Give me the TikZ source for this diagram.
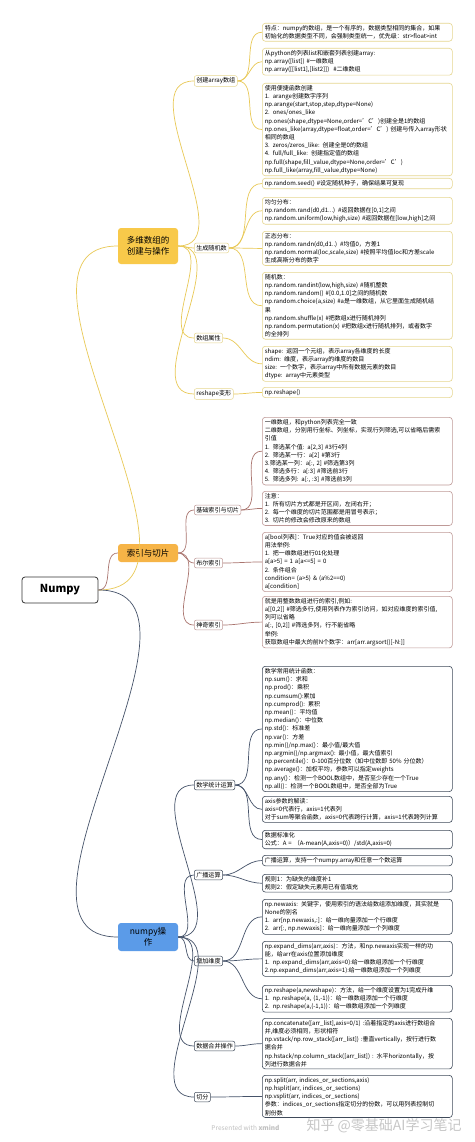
\documentclass[tikz,border=0pt]{standalone}
\usepackage{fontspec}
\setmainfont{Noto Sans CJK SC}
\XeTeXlinebreaklocale "zh"
\XeTeXlinebreakskip = 0pt plus 1pt
\usetikzlibrary{positioning}

\definecolor{ylwline}{HTML}{E6D690}
\definecolor{ylwlink}{HTML}{E9C957}
\definecolor{ylwfill}{HTML}{F8C94A}
\definecolor{redline}{HTML}{BF9A98}
\definecolor{redlink}{HTML}{A9746E}
\definecolor{redfill}{HTML}{F6B447}
\definecolor{blueline}{HTML}{3F4A5A}
\definecolor{bluelink}{HTML}{46536A}
\definecolor{bluefill}{HTML}{5B9BE8}

\tikzset{
  box/.style={draw, rounded corners=3pt, line width=0.6pt, fill=white,
    inner xsep=2.5pt, inner ysep=2pt, text width=185pt, align=left,
    font=\fontsize{6}{8.2}\selectfont, anchor=north west},
  ybox/.style={box, draw=ylwline},
  rbox/.style={box, draw=redline},
  bbox/.style={box, draw=blueline},
  sub/.style={draw, rounded corners=2pt, line width=0.5pt, fill=white,
    inner sep=2pt, font=\fontsize{6.1}{7}\selectfont, anchor=west},
  topic/.style={draw=none, rounded corners=3pt, minimum width=60pt,
    inner sep=3pt, align=center, font=\fontsize{8.5}{10.5}\selectfont},
  ylink/.style={draw=ylwlink, line width=0.7pt},
  rlink/.style={draw=redlink, line width=0.7pt},
  blink/.style={draw=bluelink, line width=0.7pt},
}

\begin{document}
\begin{tikzpicture}[x=1pt,y=-1pt]
  %%%%% START %%%%%
  \fill[white] (0,0) rectangle (474,1142);
  \useasboundingbox (0,0) rectangle (474,1142);

  % root
  \node[draw=black!80, line width=0.8pt, rounded corners=3pt, minimum width=76pt,
    minimum height=26pt, font=\fontsize{11}{13}\selectfont\bfseries] (root) at (60,590) {Numpy};

  % main topics
  \node[topic, fill=ylwfill, minimum height=36pt] (arr) at (148,246) {多维数组的\\创建与操作};
  \node[topic, fill=redfill, minimum height=18pt] (idx) at (148,553) {索引与切片};
  \node[topic, fill=bluefill, minimum height=28pt] (ops) at (148,937) {numpy操\\作};

  \draw[ylink] (root.east) to[out=0,in=180] (arr.west);
  \draw[rlink] (root.east) to[out=0,in=180] (idx.west);
  \draw[blink] (root.east) to[out=0,in=180] (ops.west);

  % --- branch 1
  \node[sub, draw=ylwline] (create) at (194,81) {创建array数组};
  \node[sub, draw=ylwline] (rand) at (194,248) {生成随机数};
  \node[sub, draw=ylwline] (attr) at (194,338) {数组属性};
  \node[sub, draw=ylwline] (resh) at (194,394) {reshape变形};
  \foreach \n in {create,rand,attr,resh}
    \draw[ylink] (arr.east) to[out=0,in=180] (\n.west);

  \node[ybox] (feat) at (262,23) {特点：numpy的数组，是一个有序的，数据类型相同的集合，如果\\初始化的数据类型不同，会强制类型统一，优先级：str>float>int};
  \node[ybox] (fromlist) at (262,48) {从python的列表list和嵌套列表创建array:\\np.array([list]) \#一维数组\\np.array([[list1],[list2]])~~\#二维数组};
  \node[ybox] (func) at (262,83) {使用便捷函数创建\\1. arange创建数字序列\\np.arange(start,stop,step,dtype=None)\\2. ones/ones\_like\\np.ones(shape,dtype=None,order='C')创建全是1的数组\\np.ones\_like(array,dtype=float,order='C') 创建与传入array形状\\相同的数组\\3. zeros/zeros\_like: 创建全是0的数组\\4. full/full\_like: 创建指定值的数组\\np.full(shape,fill\_value,dtype=None,order='C')\\np.full\_like(array,fill\_value,dtype=None)};
  \foreach \n in {feat,fromlist,func}
    \draw[ylink] (create.east) to[out=0,in=180] (\n.west);

  \node[ybox] (seed) at (262,178) {np.random.seed() \#设定随机种子，确保结果可复现};
  \node[ybox] (unif) at (262,197) {均匀分布：\\np.random.rand(d0,d1...) \#返回数据在[0,1]之间\\np.random.uniform(low,high,size) \#返回数据在[low,high]之间};
  \node[ybox] (norm) at (262,231) {正态分布：\\np.random.randn(d0,d1..) \#均值0，方差1\\np.random.normal(loc,scale,size) \#按照平均值loc和方差scale\\生成高斯分布的数字};
  \node[ybox] (rnum) at (262,272) {随机数：\\np.random.randint(low,high,size) \#随机整数\\np.random.random() \#[0.0,1.0]之间的随机数\\np.random.choice(a,size) \#a是一维数组，从它里面生成随机结\\果\\np.random.shuffle(x) \#把数组x进行随机排列\\np.random.permutation(x) \#把数组x进行随机排列，或者数字\\的全排列};
  \foreach \n in {seed,unif,norm,rnum}
    \draw[ylink] (rand.east) to[out=0,in=180] (\n.west);

  \node[ybox] (shape) at (262,346) {shape: 返回一个元组，表示array各维度的长度\\ndim: 维度，表示array的维度的数目\\size: 一个数字，表示array中所有数据元素的数目\\dtype: array中元素类型};
  \draw[ylink] (attr.east) to[out=0,in=180] (shape.west);
  \node[ybox] (npresh) at (262,387) {np.reshape()};
  \draw[ylink] (resh.east) to[out=0,in=180] (npresh.west);

  % --- branch 2
  \node[sub, draw=redline] (basic) at (194,510) {基础索引与切片};
  \node[sub, draw=redline] (bool) at (194,563) {布尔索引};
  \node[sub, draw=redline] (fancy) at (194,625) {神奇索引};
  \foreach \n in {basic,bool,fancy}
    \draw[rlink] (idx.east) to[out=0,in=180] (\n.west);

  \node[rbox] (dims) at (262,417) {一维数组，和python列表完全一致\\二维数组，分别用行坐标、列坐标，实现行列筛选,可以省略后需索\\引值\\1. 筛选某个值: a[2,3] \#3行4列\\2. 筛选某一行：a[2] \#第3行\\3.筛选某一列：a[:, 2] \#筛选第3列\\4. 筛选多行：a[:3] \#筛选前3行\\5. 筛选多列: a[:, :3] \#筛选前3列};
  \node[rbox] (note) at (262,491) {注意：\\1. 所有切片方式都是开区间，左闭右开；\\2. 每一个维度的切片范围都是用冒号表示；\\3. 切片的修改会修改原来的数组};
  \foreach \n in {dims,note}
    \draw[rlink] (basic.east) to[out=0,in=180] (\n.west);
  \node[rbox] (boolt) at (262,532) {a[bool列表]：True对应的值会被返回\\用法举例:\\1. 把一维数组进行01化处理\\a[a>5] = 1 a[a<=5] = 0\\2. 条件组合\\condition= (a>5) \& (a\%2==0)\\a[condition]};
  \draw[rlink] (bool.east) to[out=0,in=180] (boolt.west);
  \node[rbox] (fancyt) at (262,596) {就是用整数数组进行的索引,例如:\\a[[0,2]] \#筛选多行,使用列表作为索引访问，如对应维度的索引值,\\列可以省略\\a[:, [0,2]] \#筛选多列，行不能省略\\举例:\\获取数组中最大的前N个数字：arr[arr.argsort()[-N:]]};
  \draw[rlink] (fancy.east) to[out=0,in=180] (fancyt.west);

  % --- branch 3
  \node[sub, draw=blueline] (stat) at (194,785) {数学统计运算};
  \node[sub, draw=blueline] (bcast) at (194,875) {广播运算};
  \node[sub, draw=blueline] (adddim) at (194,961) {增加维度};
  \node[sub, draw=blueline] (merge) at (194,1046) {数据合并操作};
  \node[sub, draw=blueline] (split) at (194,1097) {切分};
  \foreach \n in {stat,bcast,adddim,merge,split}
    \draw[blink] (ops.east) to[out=0,in=180] (\n.west);

  \node[bbox] (statfn) at (262,666) {数学常用统计函数：\\np.sum()：求和\\np.prod()：乘积\\np.cumsum():累加\\np.cumprod(): 累积\\np.mean()：平均值\\np.median()：中位数\\np.std()：标准差\\np.var()：方差\\np.min()/np.max()：最小值/最大值\\np.argmin()/np.argmax(): 最小值，最大值索引\\np.percentile()：0-100百分位数（如中位数即 50\% 分位数）\\np.average()：加权平均，参数可以指定weights\\np.any()：检测一个BOOL数组中，是否至少存在一个True\\np.all()：检测一个BOOL数组中，是否全部为True};
  \node[bbox] (axis) at (262,796) {axis参数的解读：\\axis=0代表行，axis=1代表列\\对于sum等聚合函数，axis=0代表跨行计算，axis=1代表跨列计算};
  \node[bbox] (std) at (262,830) {数据标准化\\公式：A = （A-mean(A,axis=0)）/std(A,axis=0)};
  \foreach \n in {statfn,axis,std}
    \draw[blink] (stat.east) to[out=0,in=180] (\n.west);

  \node[bbox] (bc1) at (262,855) {广播运算，支持一个numpy.array和任意一个数运算};
  \node[bbox] (bc2) at (262,874) {规则1：为缺失的维度补1\\规则2：假定缺失元素用已有值填充};
  \foreach \n in {bc1,bc2}
    \draw[blink] (bcast.east) to[out=0,in=180] (\n.west);

  \node[bbox] (newax) at (262,899) {np.newaxis: 关键字，使用索引的语法给数组添加维度，其实就是\\None的别名\\1. arr[np.newaxis,:]：给一维向量添加一个行维度\\2. arr[:, np.newaxis]：给一维向量添加一个列维度};
  \node[bbox] (expand) at (262,941) {np.expand\_dims(arr,axis)：方法，和np.newaxis实现一样的功\\能，给arr在axis位置添加维度\\1. np.expand\_dims(arr,axis=0):给一维数组添加一个行维度\\2.np.expand\_dims(arr,axis=1):给一维数组添加一个列维度};
  \node[bbox] (reshup) at (262,985) {np.reshape(a,newshape)：方法，给一个维度设置为1完成升维\\1. np.reshape(a, (1,-1))：给一维数组添加一个行维度\\2. np.reshape(a,(-1,1))：给一维数组添加一个列维度};
  \foreach \n in {newax,expand,reshup}
    \draw[blink] (adddim.east) to[out=0,in=180] (\n.west);

  \node[bbox] (concat) at (262,1018) {np.concatenate([arr\_list],axis=0/1) :沿着指定的axis进行数组合\\并,维度必须相同，形状相符\\np.vstack/np.row\_stack([arr\_list]) :垂直vertically，按行进行数\\据合并\\np.hstack/np.column\_stack([arr\_list]) : 水平horizontally，按\\列进行数据合并};
  \draw[blink] (merge.east) to[out=0,in=180] (concat.west);
  \node[bbox] (splitt) at (262,1075) {np.split(arr, indices\_or\_sections,axis)\\np.hsplit(arr, indices\_or\_sections)\\np.vsplit(arr, indices\_or\_sections)\\参数：indices\_or\_sections指定切分的份数，可以用列表控制切\\割份数};
  \draw[blink] (split.east) to[out=0,in=180] (splitt.west);

  % footer
  \node[anchor=east, text=black!25, font=\fontsize{6.5}{8}\selectfont] (xmind) at (283,1128) {Presented with \textbf{xmind}};
  \node[anchor=west, text=black!22, font=\fontsize{14}{16}\selectfont] (mark) at (303,1126) {知乎 @零基础AI学习笔记};
  %%%%% END %%%%%
\end{tikzpicture}
\end{document}
